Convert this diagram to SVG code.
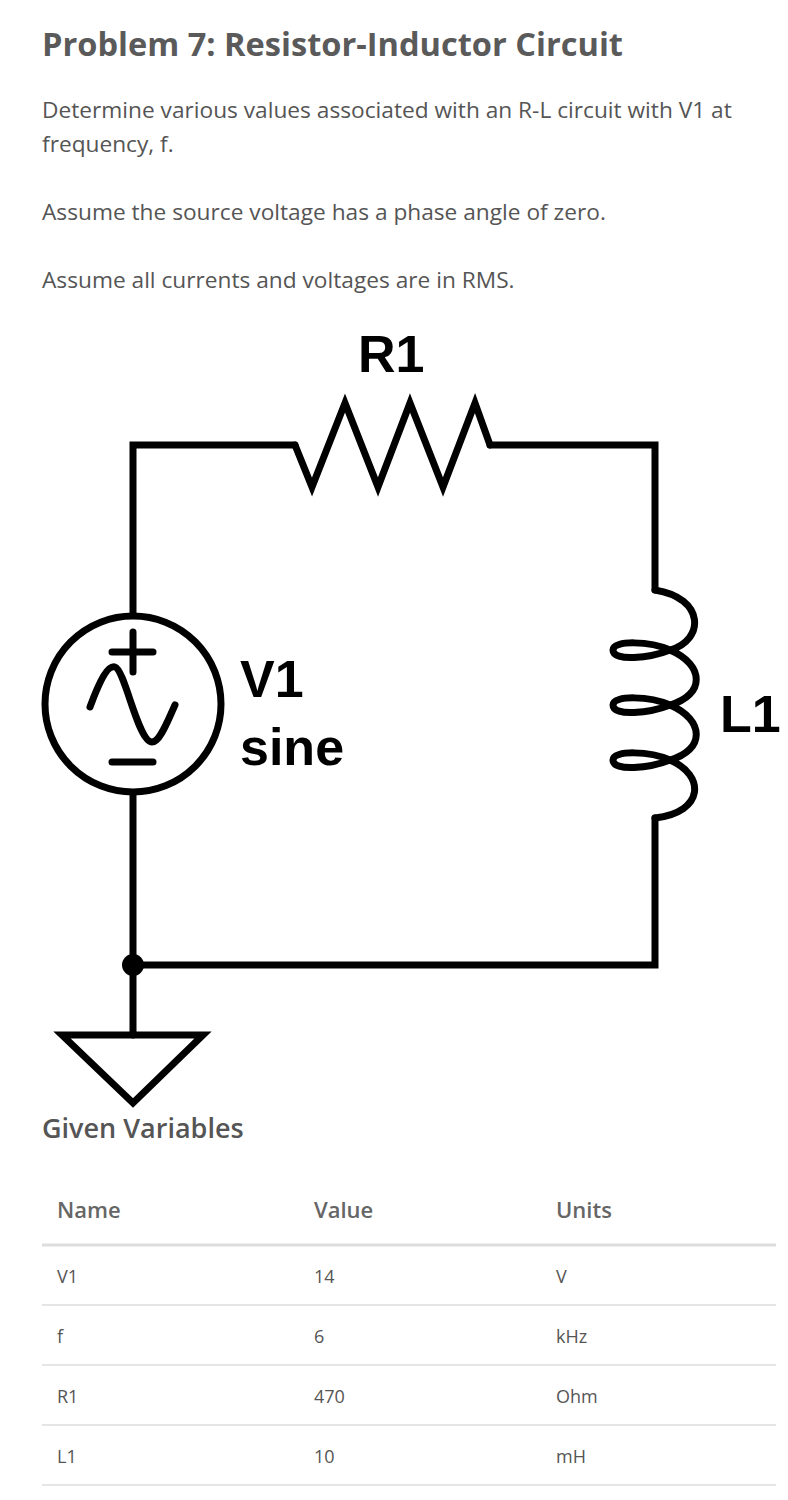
<svg xmlns="http://www.w3.org/2000/svg" width="788" height="1500" viewBox="0 0 788 1500">
<style>
.t{font-family:"Open Sans",sans-serif;fill:#555}
.h{font-family:"Open Sans",sans-serif;fill:#5a5a5a;font-weight:bold}
.w{fill:none;stroke:#000;stroke-width:7;stroke-linejoin:miter;stroke-linecap:round}
.l{font-family:"Liberation Sans",Arial,sans-serif;font-weight:bold;font-size:52px;fill:#000}
.c{font-family:"Open Sans",sans-serif;font-size:18px;fill:#555}
.th{font-family:"Open Sans",sans-serif;font-size:22px;font-weight:600;fill:#666}
.r{stroke:#ddd;stroke-width:1.5}
</style>
<rect width="788" height="1500" fill="#fff"/>
<text class="h" x="42" y="56" font-size="32.6">Problem 7: Resistor-Inductor Circuit</text>
<text class="t" font-size="22.7"><tspan x="42" y="118">Determine various values associated with an R-L circuit with V1 at</tspan><tspan x="42" y="152">frequency, f.</tspan><tspan x="42" y="220">Assume the source voltage has a phase angle of zero.</tspan><tspan x="42" y="288">Assume all currents and voltages are in RMS.</tspan></text>
<g id="connectors">
<path class="w" d="M133,615 V445 H295 M490,445 H655 V590 M655,818 V965 H133 V793 M133,965 V1035"/>
</g>
<g id="R1">
<path class="w" d="M295,445 L312,487 L345,403 L378,487 L410,403 L443,487 L475,403 L490,445"/>
<text class="l" x="358" y="372">R1</text>
</g>
<g id="V1">
<circle class="w" cx="133" cy="704" r="88"/>
<path class="w" d="M112,652 H153 M133,632 V672 M112,762 H153"/>
<path class="w" d="M90,707 C100,680 108,665 115,667 C125,670 138,742 152,742 C160,742 168,720 175,705"/>
<text class="l" x="240" y="697">V1</text>
<text class="l" x="240" y="765">sine</text>
</g>
<g id="L1">
<path class="w" d="M655,590 C705,598 705,640 670,650 C650,658 613,662 613,650 C613,640 650,641 670,650 C705,665 705,695 670,705 C650,713 613,717 613,705 C613,695 650,696 670,705 C705,720 705,750 670,760 C650,768 613,772 613,760 C613,750 650,751 670,760 C705,775 705,812 655,818"/>
<text class="l" x="720" y="732">L1</text>
</g>
<g id="GND">
<circle cx="133" cy="965" r="11" fill="#000"/>
<path class="w" d="M62,1035 H203 L133,1103 Z"/>
</g>
<text class="t" x="42" y="1138" font-size="27" font-weight="600" fill="#666">Given Variables</text>
<g id="table">
<text class="th" x="57" y="1218">Name</text><text class="th" x="314" y="1218">Value</text><text class="th" x="556" y="1218">Units</text>
<line x1="42" y1="1245" x2="776" y2="1245" stroke="#ddd" stroke-width="3"/>
<text class="c" x="57" y="1283">V1</text><text class="c" x="314" y="1283">14</text><text class="c" x="556" y="1283">V</text>
<line class="r" x1="42" y1="1305" x2="776" y2="1305"/>
<text class="c" x="57" y="1343">f</text><text class="c" x="314" y="1343">6</text><text class="c" x="556" y="1343">kHz</text>
<line class="r" x1="42" y1="1365" x2="776" y2="1365"/>
<text class="c" x="57" y="1403">R1</text><text class="c" x="314" y="1403">470</text><text class="c" x="556" y="1403">Ohm</text>
<line class="r" x1="42" y1="1425" x2="776" y2="1425"/>
<text class="c" x="57" y="1463">L1</text><text class="c" x="314" y="1463">10</text><text class="c" x="556" y="1463">mH</text>
<line class="r" x1="42" y1="1485" x2="776" y2="1485"/>
</g>
</svg>
